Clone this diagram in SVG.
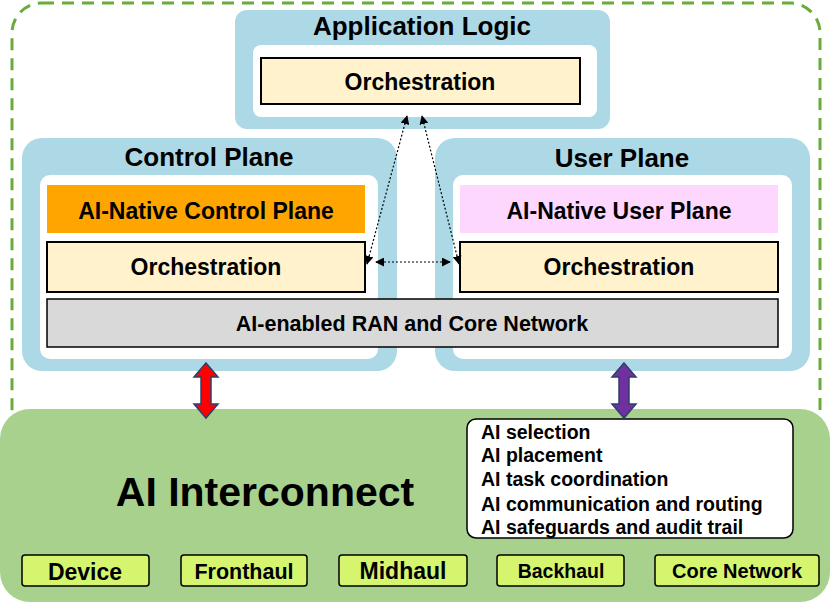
<svg xmlns="http://www.w3.org/2000/svg" width="830" height="602" viewBox="0 0 830 602">
<style>
text{font-family:"Liberation Sans",Arial,sans-serif;font-weight:bold;fill:#000}
.blue{fill:#add8e6}
.wh{fill:#fff}
.orch{fill:#fff2cc;stroke:#000;stroke-width:2}
.t20{font-size:23px;text-anchor:middle}
.t{font-size:26px;text-anchor:middle}
.bot{fill:#d5f56f;stroke:#000;stroke-width:1.5}
.dot{stroke:#000;stroke-width:1.2;stroke-dasharray:2,2;fill:none}
.big{stroke:#2f3f6f;stroke-width:1.5}
</style>
<defs>
<marker id="ah" viewBox="0 0 10 10" refX="9" refY="5" markerWidth="9" markerHeight="9" orient="auto-start-reverse" markerUnits="userSpaceOnUse"><path d="M0,0L10,5L0,10z" fill="#000"/></marker>
</defs>
<rect x="12" y="3" width="808" height="580" rx="30" fill="none" stroke="#6aab3d" stroke-width="3" stroke-dasharray="12,8"/>
<g id="app">
<rect class="blue" x="235" y="10" width="375" height="119" rx="12"/>
<rect class="wh" x="253" y="45" width="344" height="72" rx="8"/>
<text class="t" x="422" y="35">Application Logic</text>
<rect class="orch" x="261" y="58" width="319" height="46"/>
<text class="t20" x="420" y="90">Orchestration</text>
</g>
<g id="control">
<rect class="blue" x="22" y="138" width="375" height="233" rx="20"/>
<rect class="wh" x="40" y="175" width="338" height="184" rx="10"/>
<text class="t" x="209" y="166">Control Plane</text>
<rect x="47" y="185" width="318" height="48" fill="#ffa500"/>
<text class="t20" x="206" y="219">AI-Native Control Plane</text>
<rect class="orch" x="47" y="242" width="318" height="50"/>
<text class="t20" x="206" y="275">Orchestration</text>
</g>
<g id="user">
<rect class="blue" x="435" y="138" width="375" height="233" rx="20"/>
<rect class="wh" x="453" y="175" width="339" height="184" rx="10"/>
<text class="t" x="622" y="167">User Plane</text>
<rect x="460" y="185" width="318" height="48" fill="#fdd7fd"/>
<text class="t20" x="619" y="219">AI-Native User Plane</text>
<rect class="orch" x="460" y="242" width="318" height="50"/>
<text class="t20" x="619" y="275">Orchestration</text>
</g>
<g id="ran">
<rect x="47" y="299" width="731" height="48" fill="#d9d9d9" stroke="#000" stroke-width="1.5"/>
<text x="412" y="331" style="font-size:21.5px;text-anchor:middle">AI-enabled RAN and Core Network</text>
</g>
<g id="interconnect">
<rect x="0" y="409" width="830" height="193" rx="30" fill="#a9d18e"/>
<text x="265" y="506" style="font-size:41px;text-anchor:middle">AI Interconnect</text>
<rect x="467" y="419" width="326" height="119" rx="9" fill="#fff" stroke="#000" stroke-width="1.5"/>
<g style="font-size:19.5px">
<text x="481" y="439">AI selection</text>
<text x="481" y="462">AI placement</text>
<text x="481" y="486">AI task coordination</text>
<text x="481" y="511">AI communication and routing</text>
<text x="481" y="534">AI safeguards and audit trail</text>
</g>
</g>
<g id="segments" style="text-anchor:middle">
<rect class="bot" x="22" y="555" width="127" height="31" rx="3"/><text x="85" y="580" style="font-size:23px">Device</text>
<rect class="bot" x="181" y="555" width="126" height="31" rx="3"/><text x="244" y="579" style="font-size:21.5px">Fronthaul</text>
<rect class="bot" x="339" y="555" width="128" height="31" rx="3"/><text x="403" y="579" style="font-size:23px">Midhaul</text>
<rect class="bot" x="497" y="555" width="127" height="31" rx="3"/><text x="561" y="578" style="font-size:19.5px">Backhaul</text>
<rect class="bot" x="655" y="555" width="164" height="31" rx="3"/><text x="737" y="578" style="font-size:20px">Core Network</text>
</g>
<g id="connectors">
<line class="dot" x1="367" y1="264" x2="407" y2="116" marker-start="url(#ah)" marker-end="url(#ah)"/>
<line class="dot" x1="459" y1="264" x2="422" y2="116" marker-start="url(#ah)" marker-end="url(#ah)"/>
<line class="dot" x1="376" y1="262" x2="450" y2="262" marker-start="url(#ah)" marker-end="url(#ah)"/>
<path class="big" fill="#ff0000" d="M206,363 L218,377 L211,377 L211,404 L218,404 L206,418 L194,404 L201,404 L201,377 L194,377 Z"/>
<path class="big" fill="#7030a0" d="M624,363 L636,377 L629,377 L629,404 L636,404 L624,418 L612,404 L619,404 L619,377 L612,377 Z"/>
</g>
</svg>
